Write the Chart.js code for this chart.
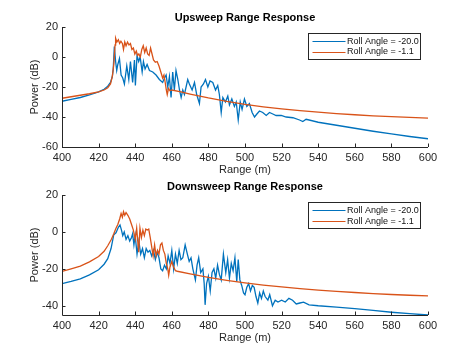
<!DOCTYPE html>
<html><head><meta charset="utf-8">
<script src="https://cdn.jsdelivr.net/npm/chart.js@4"></script>
<style>
html,body{margin:0;padding:0;background:#fff;}
#wrap{position:relative;width:474px;height:355px;overflow:hidden;background:#fff;}
.box{position:absolute;left:0;width:474px;}
#b1{top:0;height:185px;}
#b2{top:175px;height:180px;}
</style></head><body>
<div id="wrap"><div class="box" id="b1"><canvas id="c1"></canvas></div><div class="box" id="b2"><canvas id="c2"></canvas></div></div>
<script>
const labelA = 'Roll Angle = -20.0';
const labelB = 'Roll Angle = -1.1';
const titleUp = 'Upsweep Range Response';
const titleDown = 'Downsweep Range Response';
const xTitle = 'Range (m)';
const yTitle = 'Power (dB)';
const xTicks = [400,420,440,460,480,500,520,540,560,580,600];
const yTicksUp = [-60,-40,-20,0,20];
const yTicksDown = [-40,-20,0,20];

// Upsweep, roll -20.0
const upAx = [400,405,410,415,420,423,425,426.5,427.5,428,428.6,429.3,429.9,430.5,431.4,432.3,433.2,434.1,435.4,436.5,437.4,438.6,439.6,440.1,441,441.9,442.7,443.8,444.5,445.4,446.5,447.8,449.6,451.4,453.2,455,456,456.9,457.8,458.7,459.6,460.5,461.4,462.3,463.3,464.2,465.1,466,466.9,468.7,469.6,471.1,472.4,473.6,475.1,476,477.3,478.4,479.7,480.9,482.4,483.9,485.1,486,487,487.9,489.3,490.6,491.5,492.8,494.2,495.2,496.3,497.4,498.4,499.7,501,502.4,503.9,505.2,506.5,507.9,509.7,511.6,513.4,515.2,517,519.8,522.5,526.2,529.8,531.6,533.4,540,550,560,570,580,590,600];
const upAy = [-29.5,-28.3,-27,-25.3,-23.3,-21.5,-19.5,-17,-13,-8,7,-3,-9,-5,-1,-12,-14,-18,-6,-15,-3,-17,-2,-19,1,-3,0,-10,-3,-8,-5,-9,-10,-12,-15,-17,-14,-12,-20,-13,-27,-10,-22,-9,-15,-22,-27,-22,-25,-15,-18,-22,-17,-25,-31,-20,-18,-15,-20,-16,-17,-22,-19,-25,-37,-27,-30,-26,-32,-28,-33,-30,-42,-30,-35,-28,-33,-31,-37,-40,-38,-36,-37,-39,-37,-38,-39,-39,-40,-40.5,-42,-43,-41.5,-43.5,-45.5,-47.5,-49.5,-51.3,-53,-54.5];
// Upsweep, roll -1.1
const upBx = [400,405,410,415,420,423,425,426.5,427.5,428.3,429,429.3,430,430.8,431.5,432.2,433,433.6,434.3,435,435.8,436.6,437.4,438.2,439,439.8,440.6,441.3,442,442.8,443.6,444.4,445.2,446,446.8,447.6,448.4,449.2,450,451,452,453,454,455,455.7,456.4,457,457.5,458.2,459,460,465,470,480,490,500,510,520,530,540,550,560,570,580,590,600];
const upBy = [-27.5,-26.5,-25.5,-24.5,-23.3,-22,-20.5,-18,-13,-5,8,12.5,10,11.5,9,10.5,9,5,10,7.5,10,8,9,5,6,2,4,1,2,0,5,7.5,3,6,2,1,6,2,-2,-3.5,-3,-6,-10,-14,-12,-17,-22,-25,-21,-22.5,-22,-23.3,-24.7,-27.3,-29.6,-31.6,-33.2,-34.6,-35.8,-36.8,-37.7,-38.5,-39.2,-39.8,-40.3,-40.7];

// Downsweep, roll -20.0
const dnAx = [400,405,410,415,420,423,425,426.8,428.3,429.5,430.8,431.7,432.5,433.2,434,435,436,437,438,438.6,439.3,440,441,442,443,444,445,446,447,448,449,450,451,452,453,454,455,456,457,458,459,460,461,462,463,464,465,466,467.3,468.5,469.5,470.5,471.5,472.9,473.8,474.7,475.8,477,477.7,478.2,479,480,481,482,483,484,485,486,487,488.2,489.5,490.5,491.5,492.5,493.5,494.5,495.5,496.3,497.2,498.2,499.2,500,501,502,503,504,505,506,507,508,509,510,511,512.5,513.5,515,516.5,518,520,522,524,526,528,530,532,535,540,550,560,570,580,590,600];
const dnAy = [-28,-26.8,-25.4,-23.3,-20.5,-17.5,-14.5,-9,-1.5,-0.5,2.5,3.8,1,-2,0,-4,-2,-5,-3,-1,-7,-2,-12,-5,-12,-9,-14,-9,-11,-10,-13,-10,-15,-11,-14,-20,-21,-18,-20,-13,-17,-10,-20,-12,-17,-10,-15,-14,-7,-12,-16,-14,-20,-26,-18,-14,-22,-20,-28,-39.5,-28,-24,-32,-22,-20,-25,-18,-23,-26,-12,-22,-15,-25,-17,-21,-14,-27,-15,-26,-29,-33,-34,-30,-28,-32,-29,-30,-35,-38.5,-33,-36,-32,-35,-37,-34,-40,-37,-38,-37,-38,-36,-37,-39,-38.5,-38,-39.5,-40,-40.7,-41.5,-42.5,-43.5,-44.3,-45];
// Downsweep, roll -1.1
const dnBx = [400,405,410,415,420,423,425,427,428.3,429.5,430.5,431.5,432.3,433,433.6,434.3,435,436,437,438,439,440,440.8,441.9,442.6,443.4,444.2,445,445.8,446.6,447.4,448.2,449,449.8,450.6,451.4,452.2,453,453.8,454.6,455.4,456.2,457,457.8,458.3,459,460,461,462,463,470,480,490,500,510,520,530,540,550,560,570,580,590,600];
const dnBy = [-21.4,-20,-18.5,-16.2,-13.3,-10.5,-7.5,-4,-1,2,4,7,10,8,11,9,10.5,9,7,4,1,-4,2,-11,2,-3,1,-2,1.5,1,1.5,-3,-8,-13,-7,-13,-10,-12,-7,-6,-10,-12,-17,-20,-23.5,-19,-16,-19,-21,-21.3,-22.7,-24.6,-26.2,-27.6,-28.8,-29.8,-30.7,-31.5,-32.2,-32.8,-33.4,-33.9,-34.3,-34.6];

const BLUE = '#0072BD', ORANGE = '#D95319', AXC = '#262626';
const FONT = "'Liberation Sans', Arial, Helvetica, sans-serif";
const pts = (xs, ys) => xs.map((x, i) => ({x: x, y: ys[i]}));

const deco = {
  id: 'deco',
  afterDraw(chart) {
    const {ctx, chartArea: a, scales: {x, y}} = chart;
    ctx.save();
    ctx.strokeStyle = AXC; ctx.lineWidth = 1;
    ctx.beginPath();
    ctx.moveTo(a.left + 0.5, a.top); ctx.lineTo(a.left + 0.5, a.bottom + 0.5); ctx.lineTo(a.right, a.bottom + 0.5);
    ctx.stroke();
    x.ticks.forEach(t => { const p = Math.round(x.getPixelForValue(t.value)) + 0.5; ctx.beginPath(); ctx.moveTo(p, a.bottom); ctx.lineTo(p, a.bottom - 3.5); ctx.stroke(); });
    y.ticks.forEach(t => { const p = Math.round(y.getPixelForValue(t.value)) + 0.5; ctx.beginPath(); ctx.moveTo(a.left, p); ctx.lineTo(a.left + 3.5, p); ctx.stroke(); });
    // legend
    const lg = chart.options.plugins.deco;
    const bw = 112, bh = 26;
    const bx = Math.round(a.right - 8 - bw) + 0.5, by = Math.round(a.top + lg.dy) + 0.5;
    ctx.fillStyle = '#fff'; ctx.fillRect(bx, by, bw, bh);
    ctx.strokeStyle = AXC; ctx.strokeRect(bx, by, bw, bh);
    ctx.font = '9px ' + FONT; ctx.textBaseline = 'middle'; ctx.textAlign = 'left';
    chart.data.datasets.forEach((ds, i) => {
      const ry = by + lg.r0 + i * lg.rs;
      ctx.strokeStyle = ds.borderColor; ctx.lineWidth = 1;
      ctx.beginPath(); ctx.moveTo(bx + 4, Math.round(ry) + 0.5); ctx.lineTo(bx + 37, Math.round(ry) + 0.5); ctx.stroke();
      ctx.fillStyle = '#111'; ctx.fillText(ds.label, bx + 38.5, ry + 0.5);
    });
    ctx.restore();
  }
};

function make(id, title, A, B, yMin, yMax, yTicks, o) {
  return new Chart(document.getElementById(id), {
    type: 'line',
    data: { datasets: [
      { label: labelA, data: A, borderColor: BLUE, borderWidth: 1.3, pointRadius: 0, tension: 0, order: 1 },
      { label: labelB, data: B, borderColor: ORANGE, borderWidth: 1.3, pointRadius: 0, tension: 0, order: 0 }
    ]},
    options: {
      responsive: true, maintainAspectRatio: false, animation: false,
      layout: { padding: { left: 0, right: 46, top: 0, bottom: 0 } },
      plugins: {
        legend: { display: false }, tooltip: { enabled: false },
        title: { display: true, text: title, fullSize: false, color: '#000',
          font: { family: FONT, size: 11, weight: 'bold' }, padding: { top: o.tpt, bottom: o.tpb } },
        deco: { dy: o.ldy, r0: o.r0, rs: o.rs }
      },
      scales: {
        x: { type: 'linear', min: 400, max: 600,
          afterBuildTicks: s => { s.ticks = xTicks.map(v => ({value: v})); },
          afterFit: s => { s.height = o.xh; },
          grid: { display: false, drawTicks: false }, border: { display: false },
          ticks: { color: AXC, padding: 4, font: { family: FONT, size: 11 }, maxRotation: 0 },
          title: { display: true, text: xTitle, color: AXC, font: { family: FONT, size: 11 }, padding: { top: 0, bottom: o.xtb } } },
        y: { type: 'linear', min: yMin, max: yMax,
          afterBuildTicks: s => { s.ticks = yTicks.map(v => ({value: v})); },
          afterFit: s => { s.width = 62; },
          grid: { display: false, drawTicks: false }, border: { display: false },
          ticks: { color: AXC, padding: 4, font: { family: FONT, size: 11 } },
          title: { display: true, text: yTitle, color: AXC, font: { family: FONT, size: 11 }, padding: { top: 28, bottom: 0 } } }
      }
    },
    plugins: [deco]
  });
}

make('c1', titleUp, pts(upAx, upAy), pts(upBx, upBy), -60, 20, yTicksUp,
  { tpt: 11.4, tpb: 2.4, xh: 38, xtb: 8.4, ldy: 6, r0: 7.2, rs: 10.8 });
make('c2', titleDown, pts(dnAx, dnAy), pts(dnBx, dnBy), -45, 20, yTicksDown,
  { tpt: 5.7, tpb: 1.1, xh: 40, xtb: 10.4, ldy: 7, r0: 7.2, rs: 11.5 });
</script>
</body></html>
